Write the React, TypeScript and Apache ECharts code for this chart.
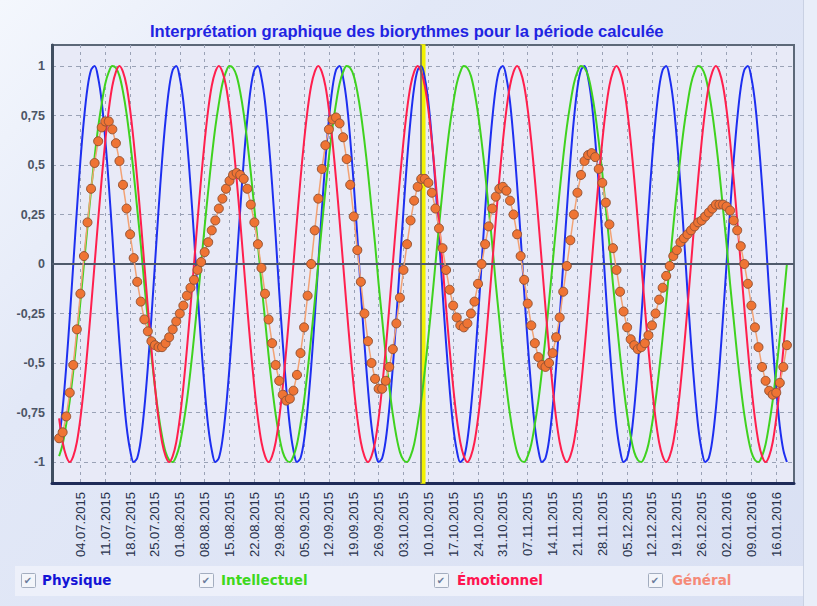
import React, { useEffect, useRef } from 'react';
import * as echarts from 'echarts';

// ---- axis categories (one per day, 26.06.2015 .. 21.01.2016) ----
const AXIS_START_UTC = Date.UTC(2015, 5, 26);
const AXIS_DAYS = 210;
const LEAD = 2; // empty days before the first data point (28.06.2015)
const TRAIL = 2; // empty days after the last data point (19.01.2016)

const pad2 = (n: number) => (n < 10 ? '0' + n : String(n));
const dayLabels: string[] = Array.from({ length: AXIS_DAYS }, (_, i) => {
  const d = new Date(AXIS_START_UTC + i * 86400000);
  return `${pad2(d.getUTCDate())}.${pad2(d.getUTCMonth() + 1)}.${d.getUTCFullYear()}`;
});

const tickLabels = [
  '04.07.2015', '11.07.2015', '18.07.2015', '25.07.2015', '01.08.2015', '08.08.2015',
  '15.08.2015', '22.08.2015', '29.08.2015', '05.09.2015', '12.09.2015', '19.09.2015',
  '26.09.2015', '03.10.2015', '10.10.2015', '17.10.2015', '24.10.2015', '31.10.2015',
  '07.11.2015', '14.11.2015', '21.11.2015', '28.11.2015', '05.12.2015', '12.12.2015',
  '19.12.2015', '26.12.2015', '02.01.2016', '09.01.2016', '16.01.2016',
];

const todayLabel = '08.10.2015';
const todayEndLabel = '09.10.2015';

const title = 'Interprétation graphique des biorythmes pour la période calculée';

// ---- series values, one per day from 28.06.2015 to 19.01.2016 ----
const physique = [
  -0.89, -0.73, -0.52, -0.27,
  0, 0.27, 0.52, 0.73, 0.89, 0.98, 1, 0.94, 0.82, 0.63, 0.4, 0.14, -0.14, -0.4, -0.63, -0.82, -0.94, -1, -0.98, -0.89, -0.73, -0.52, -0.27,
  0, 0.27, 0.52, 0.73, 0.89, 0.98, 1, 0.94, 0.82, 0.63, 0.4, 0.14, -0.14, -0.4, -0.63, -0.82, -0.94, -1, -0.98, -0.89, -0.73, -0.52, -0.27,
  0, 0.27, 0.52, 0.73, 0.89, 0.98, 1, 0.94, 0.82, 0.63, 0.4, 0.14, -0.14, -0.4, -0.63, -0.82, -0.94, -1, -0.98, -0.89, -0.73, -0.52, -0.27,
  0, 0.27, 0.52, 0.73, 0.89, 0.98, 1, 0.94, 0.82, 0.63, 0.4, 0.14, -0.14, -0.4, -0.63, -0.82, -0.94, -1, -0.98, -0.89, -0.73, -0.52, -0.27,
  0, 0.27, 0.52, 0.73, 0.89, 0.98, 1, 0.94, 0.82, 0.63, 0.4, 0.14, -0.14, -0.4, -0.63, -0.82, -0.94, -1, -0.98, -0.89, -0.73, -0.52, -0.27,
  0, 0.27, 0.52, 0.73, 0.89, 0.98, 1, 0.94, 0.82, 0.63, 0.4, 0.14, -0.14, -0.4, -0.63, -0.82, -0.94, -1, -0.98, -0.89, -0.73, -0.52, -0.27,
  0, 0.27, 0.52, 0.73, 0.89, 0.98, 1, 0.94, 0.82, 0.63, 0.4, 0.14, -0.14, -0.4, -0.63, -0.82, -0.94, -1, -0.98, -0.89, -0.73, -0.52, -0.27,
  0, 0.27, 0.52, 0.73, 0.89, 0.98, 1, 0.94, 0.82, 0.63, 0.4, 0.14, -0.14, -0.4, -0.63, -0.82, -0.94, -1, -0.98, -0.89, -0.73, -0.52, -0.27,
  0, 0.27, 0.52, 0.73, 0.89, 0.98, 1, 0.94, 0.82, 0.63, 0.4, 0.14, -0.14, -0.4, -0.63, -0.82, -0.94, -1,
];

const emotionnel = [
  -0.78, -0.9, -0.97, -1, -0.97, -0.9, -0.78, -0.62, -0.43, -0.22,
  0, 0.22, 0.43, 0.62, 0.78, 0.9, 0.97, 1, 0.97, 0.9, 0.78, 0.62, 0.43, 0.22, 0, -0.22, -0.43, -0.62, -0.78, -0.9, -0.97, -1, -0.97, -0.9, -0.78, -0.62, -0.43, -0.22,
  0, 0.22, 0.43, 0.62, 0.78, 0.9, 0.97, 1, 0.97, 0.9, 0.78, 0.62, 0.43, 0.22, 0, -0.22, -0.43, -0.62, -0.78, -0.9, -0.97, -1, -0.97, -0.9, -0.78, -0.62, -0.43, -0.22,
  0, 0.22, 0.43, 0.62, 0.78, 0.9, 0.97, 1, 0.97, 0.9, 0.78, 0.62, 0.43, 0.22, 0, -0.22, -0.43, -0.62, -0.78, -0.9, -0.97, -1, -0.97, -0.9, -0.78, -0.62, -0.43, -0.22,
  0, 0.22, 0.43, 0.62, 0.78, 0.9, 0.97, 1, 0.97, 0.9, 0.78, 0.62, 0.43, 0.22, 0, -0.22, -0.43, -0.62, -0.78, -0.9, -0.97, -1, -0.97, -0.9, -0.78, -0.62, -0.43, -0.22,
  0, 0.22, 0.43, 0.62, 0.78, 0.9, 0.97, 1, 0.97, 0.9, 0.78, 0.62, 0.43, 0.22, 0, -0.22, -0.43, -0.62, -0.78, -0.9, -0.97, -1, -0.97, -0.9, -0.78, -0.62, -0.43, -0.22,
  0, 0.22, 0.43, 0.62, 0.78, 0.9, 0.97, 1, 0.97, 0.9, 0.78, 0.62, 0.43, 0.22, 0, -0.22, -0.43, -0.62, -0.78, -0.9, -0.97, -1, -0.97, -0.9, -0.78, -0.62, -0.43, -0.22,
  0, 0.22, 0.43, 0.62, 0.78, 0.9, 0.97, 1, 0.97, 0.9, 0.78, 0.62, 0.43, 0.22, 0, -0.22, -0.43, -0.62, -0.78, -0.9, -0.97, -1, -0.97, -0.9, -0.78, -0.62, -0.43, -0.22,
];

const intellectuel = [
  -0.97, -0.91, -0.81, -0.69, -0.54, -0.37, -0.19,
  0, 0.19, 0.37, 0.54, 0.69, 0.81, 0.91, 0.97, 1, 0.99, 0.95, 0.87, 0.76, 0.62, 0.46, 0.28, 0.1, -0.1, -0.28, -0.46, -0.62, -0.76, -0.87, -0.95, -0.99, -1, -0.97, -0.91, -0.81, -0.69, -0.54, -0.37, -0.19,
  0, 0.19, 0.37, 0.54, 0.69, 0.81, 0.91, 0.97, 1, 0.99, 0.95, 0.87, 0.76, 0.62, 0.46, 0.28, 0.1, -0.1, -0.28, -0.46, -0.62, -0.76, -0.87, -0.95, -0.99, -1, -0.97, -0.91, -0.81, -0.69, -0.54, -0.37, -0.19,
  0, 0.19, 0.37, 0.54, 0.69, 0.81, 0.91, 0.97, 1, 0.99, 0.95, 0.87, 0.76, 0.62, 0.46, 0.28, 0.1, -0.1, -0.28, -0.46, -0.62, -0.76, -0.87, -0.95, -0.99, -1, -0.97, -0.91, -0.81, -0.69, -0.54, -0.37, -0.19,
  0, 0.19, 0.37, 0.54, 0.69, 0.81, 0.91, 0.97, 1, 0.99, 0.95, 0.87, 0.76, 0.62, 0.46, 0.28, 0.1, -0.1, -0.28, -0.46, -0.62, -0.76, -0.87, -0.95, -0.99, -1, -0.97, -0.91, -0.81, -0.69, -0.54, -0.37, -0.19,
  0, 0.19, 0.37, 0.54, 0.69, 0.81, 0.91, 0.97, 1, 0.99, 0.95, 0.87, 0.76, 0.62, 0.46, 0.28, 0.1, -0.1, -0.28, -0.46, -0.62, -0.76, -0.87, -0.95, -0.99, -1, -0.97, -0.91, -0.81, -0.69, -0.54, -0.37, -0.19,
  0, 0.19, 0.37, 0.54, 0.69, 0.81, 0.91, 0.97, 1, 0.99, 0.95, 0.87, 0.76, 0.62, 0.46, 0.28, 0.1, -0.1, -0.28, -0.46, -0.62, -0.76, -0.87, -0.95, -0.99, -1, -0.97, -0.91, -0.81, -0.69, -0.54, -0.37, -0.19,
  0,
];

const general = [
  -0.88, -0.85, -0.77, -0.65, -0.51, -0.33,
  -0.15, 0.04, 0.21, 0.38, 0.51, 0.62, 0.69, 0.72, 0.72, 0.68,
  0.61, 0.52, 0.40, 0.28, 0.15, 0.03, -0.09, -0.19, -0.28, -0.34,
  -0.39, -0.41, -0.42, -0.42, -0.40, -0.37, -0.33, -0.29, -0.25, -0.21,
  -0.16, -0.12, -0.08, -0.03, 0.01, 0.06, 0.11, 0.17, 0.22, 0.28,
  0.33, 0.38, 0.42, 0.45, 0.46, 0.45, 0.43, 0.38, 0.30, 0.21,
  0.10, -0.02, -0.15, -0.28, -0.40, -0.51, -0.59, -0.66, -0.69, -0.68,
  -0.64, -0.56, -0.45, -0.32, -0.16, 0.00, 0.17, 0.33, 0.48, 0.60,
  0.68, 0.73, 0.74, 0.71, 0.64, 0.53, 0.40, 0.24, 0.07, -0.09,
  -0.25, -0.39, -0.50, -0.58, -0.63, -0.63, -0.59, -0.52, -0.43, -0.30,
  -0.17, -0.03, 0.10, 0.22, 0.32, 0.39, 0.43, 0.43, 0.41, 0.36,
  0.28, 0.18, 0.08, -0.03, -0.13, -0.21, -0.27, -0.31, -0.32, -0.30,
  -0.25, -0.19, -0.10, 0.00, 0.10, 0.19, 0.28, 0.34, 0.38, 0.39,
  0.37, 0.32, 0.25, 0.15, 0.04, -0.08, -0.20, -0.31, -0.40, -0.47,
  -0.51, -0.52, -0.50, -0.45, -0.37, -0.27, -0.14, -0.01, 0.12, 0.25,
  0.36, 0.45, 0.52, 0.55, 0.56, 0.54, 0.48, 0.41, 0.31, 0.20,
  0.08, -0.03, -0.14, -0.24, -0.32, -0.38, -0.41, -0.43, -0.42, -0.40,
  -0.36, -0.31, -0.25, -0.18, -0.12, -0.06, -0.01, 0.04, 0.07, 0.11,
  0.13, 0.15, 0.17, 0.19, 0.21, 0.22, 0.24, 0.26, 0.28, 0.30,
  0.30, 0.30, 0.29, 0.27, 0.22, 0.17, 0.09, 0.00, -0.10, -0.21,
  -0.32, -0.42, -0.52, -0.59, -0.64, -0.66, -0.65, -0.60, -0.52, -0.41,
];

const legendItems = [
  { name: 'Physique', color: '#1414d6', boxX: 21, textX: 42 },
  { name: 'Intellectuel', color: '#3ed81c', boxX: 199, textX: 221 },
  { name: 'Émotionnel', color: '#ff1450', boxX: 434, textX: 457 },
  { name: 'Général', color: '#f58a78', boxX: 648, textX: 672 },
];

const padData = (arr: number[]) => [
  ...Array(LEAD).fill(null),
  ...arr,
  ...Array(TRAIL).fill(null),
];

const isTick = (_i: number, v: string) => tickLabels.indexOf(v) >= 0;

export default function App() {
  const ref = useRef<HTMLDivElement>(null);

  useEffect(() => {
    if (!ref.current) return;
    const chart = echarts.init(ref.current, undefined, { renderer: 'svg' });

    const sineSeries = (name: string, data: number[], color: string, z: number) => ({
      name,
      type: 'line',
      xAxisIndex: 1,
      yAxisIndex: 1,
      data: padData(data),
      smooth: 0.35,
      showSymbol: false,
      symbol: 'none',
      clip: false,
      z,
      lineStyle: { color, width: 2 },
      itemStyle: { color },
    });

    const graphics: any[] = [
      { type: 'rect', left: 803, top: 0, shape: { width: 14, height: 606 }, style: { fill: '#e9eef9' }, z: -5 },
      { type: 'line', shape: { x1: 803.5, y1: 0, x2: 803.5, y2: 606 }, style: { stroke: '#c9d1e3', lineWidth: 1 }, z: -4 },
      { type: 'rect', left: 15, top: 566, shape: { width: 788, height: 30 }, style: { fill: '#edf0fa' }, z: 1 },
    ];
    legendItems.forEach((it) => {
      graphics.push({
        type: 'rect',
        left: it.boxX,
        top: 573,
        shape: { width: 14, height: 14, r: 1 },
        style: { fill: '#f3f5fa', stroke: '#a3adbf', lineWidth: 1 },
        z: 2,
      });
      graphics.push({
        type: 'text',
        x: it.boxX + 7,
        y: 580.5,
        style: {
          text: '✔',
          fill: '#6b7c9c',
          fontSize: 10,
          fontFamily: 'DejaVu Sans',
          align: 'center',
          verticalAlign: 'middle',
        },
        z: 3,
      });
      graphics.push({
        type: 'text',
        x: it.textX,
        y: 580,
        style: {
          text: it.name,
          fill: it.color,
          fontSize: 13.5,
          fontWeight: 'bold',
          fontFamily: 'DejaVu Sans',
          verticalAlign: 'middle',
        },
        z: 3,
      });
    });

    const option: any = {
      animation: false,
      backgroundColor: 'transparent',
      title: {
        text: title,
        left: 145,
        top: 18,
        textStyle: {
          color: '#1f24e2',
          fontSize: 16.6,
          fontWeight: 'bold',
          fontFamily: 'Liberation Sans',
        },
      },
      grid: [
        {
          left: 52,
          top: 45,
          width: 742,
          height: 438,
          show: true,
          backgroundColor: '#e8eaf7',
          borderColor: '#5c6878',
          borderWidth: 2,
        },
        { left: 52, top: 66, width: 742, height: 396 },
      ],
      xAxis: [
        {
          type: 'category',
          gridIndex: 0,
          data: dayLabels,
          boundaryGap: false,
          axisLine: { show: true, lineStyle: { color: '#1e2b58', width: 3 } },
          axisTick: { show: false },
          axisLabel: {
            interval: isTick,
            rotate: 90,
            margin: 9,
            fontSize: 13,
            color: '#27314b',
            fontFamily: 'Liberation Sans',
          },
          splitLine: {
            show: true,
            interval: isTick,
            lineStyle: { color: '#9aa2b6', type: [3, 4], width: 1 },
          },
        },
        {
          type: 'category',
          gridIndex: 1,
          data: dayLabels,
          boundaryGap: false,
          show: false,
        },
      ],
      yAxis: [
        {
          type: 'value',
          gridIndex: 0,
          min: 0,
          max: 1,
          axisLine: { show: true, lineStyle: { color: '#404e60', width: 3 } },
          axisTick: { show: false },
          axisLabel: { show: false },
          splitLine: { show: false },
        },
        {
          type: 'value',
          gridIndex: 1,
          min: -1,
          max: 1,
          interval: 0.25,
          axisLine: { show: false },
          axisTick: { show: false },
          axisLabel: {
            formatter: (v: number) => String(v).replace('.', ','),
            fontSize: 12.5,
            fontWeight: 'bold',
            color: '#4c5566',
            fontFamily: 'Liberation Sans',
            margin: 7,
          },
          splitLine: { show: true, lineStyle: { color: '#9aa2b6', type: [4, 4], width: 1 } },
        },
      ],
      graphic: graphics,
      series: [
        {
          name: 'today',
          type: 'line',
          xAxisIndex: 0,
          yAxisIndex: 0,
          data: dayLabels.map(() => null),
          z: 1,
          markArea: {
            silent: true,
            itemStyle: { color: '#f2f200', borderColor: '#f2f200', borderWidth: 1.5 },
            data: [[{ xAxis: todayLabel }, { xAxis: todayEndLabel }]],
          },
          markLine: {
            silent: true,
            symbol: 'none',
            label: { show: false },
            lineStyle: { color: '#5b6573', width: 1.5, type: 'solid' },
            data: [{ xAxis: todayLabel }],
          },
        },
        {
          name: 'zero',
          type: 'line',
          xAxisIndex: 1,
          yAxisIndex: 1,
          data: dayLabels.map(() => null),
          z: 1,
          markLine: {
            silent: true,
            symbol: 'none',
            label: { show: false },
            lineStyle: { color: '#4f5a6b', width: 2, type: 'solid' },
            data: [{ yAxis: 0 }],
          },
        },
        sineSeries('Physique', physique, '#1d2ff0', 3),
        sineSeries('Intellectuel', intellectuel, '#3fd21f', 3),
        sineSeries('Émotionnel', emotionnel, '#ff1f4d', 4),
        {
          name: 'Général',
          type: 'line',
          xAxisIndex: 1,
          yAxisIndex: 1,
          data: padData(general),
          symbol: 'circle',
          symbolSize: 9,
          showSymbol: true,
          showAllSymbol: true,
          clip: false,
          z: 6,
          lineStyle: { color: '#f2a275', width: 1.5 },
          itemStyle: { color: '#ef7434', borderColor: '#955333', borderWidth: 1 },
        },
      ],
    };

    chart.setOption(option);
    return () => chart.dispose();
  }, []);

  return (
    <div
      ref={ref}
      style={{
        position: 'fixed',
        left: 0,
        top: 0,
        width: 817,
        height: 606,
        background: 'linear-gradient(135deg, #f4f7fd 0%, #e2e8f7 30%, #d9e0f3 100%)',
      }}
    />
  );
}
